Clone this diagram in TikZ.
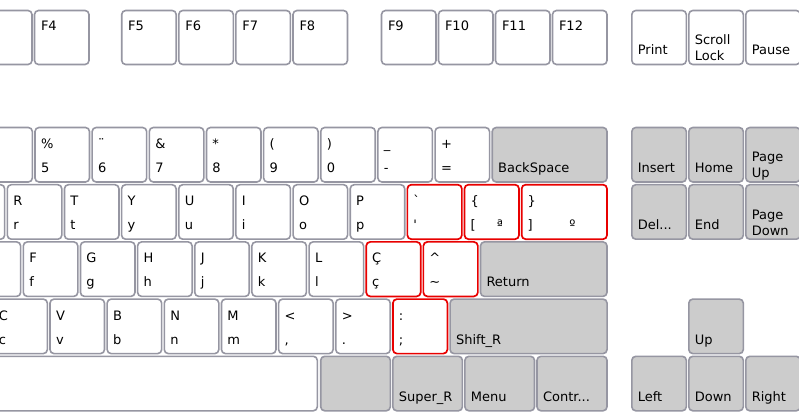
\documentclass[tikz,border=0pt]{standalone}
\usepackage{fontspec}
\setmainfont{DejaVu Sans}
\usepackage{tikz}
\usetikzlibrary{calc}
\definecolor{keyline}{RGB}{150,150,162}
\definecolor{keygray}{RGB}{204,204,204}
\definecolor{keyred}{RGB}{232,0,0}

\begin{document}
\begin{tikzpicture}[x=1pt,y=-1pt,
	kbkey/.style={draw=keyline,line width=1.6pt,rounded corners=4pt,fill=white,anchor=north west,inner sep=0pt,outer sep=0pt,minimum width=54.5pt,minimum height=54.5pt},
	graykey/.style={kbkey,fill=keygray},
	redkey/.style={kbkey,draw=keyred,line width=1.7pt},
	lab/.style={anchor=base west,inner sep=0pt,outer sep=0pt,font=\fontsize{13}{16}\selectfont}]
		\newcommand{\U}{57.15}
		\useasboundingbox (0,0) rectangle (799,419);
		\clip (0,0) rectangle (799,419);
		\fill[white] (0,0) rectangle (799,419);
		% F row
		\node[kbkey,minimum height=54pt] (f3) at (-22.5,10.5) {}; %cut off
		\foreach \n/\x in {4/34.5,5/121.7,6/178.8,7/235.9,8/293.0,9/381.5,10/438.5,11/495.5,12/552.5}{
			\node[kbkey,minimum height=54pt] (f\n) at (\x,10.5) {};
			\node[lab] (tf\n) at ($(f\n.north west)+(6.5,20)$) {F\n};
		}
		\node[kbkey,minimum height=54pt] (print) at (631.8,10.5) {};
		\node[lab] (tprint) at ($(print.north west)+(6,44.5)$) {Print};
		\node[kbkey,minimum height=54pt] (scroll) at (688.8,10.5) {};
		\node[lab] (tscroll) at ($(scroll.north west)+(6,34.5)$) {Scroll};
		\node[lab] (bscroll) at ($(scroll.north west)+(6,50.5)$) {Lock};
		\node[kbkey,minimum height=54pt] (pause) at (745.8,10.5) {};
		\node[lab] (tpause) at ($(pause.north west)+(6,44.5)$) {Pause};
		% number row
		\node[kbkey] (k4) at (35-\U,127.5) {}; %cut off
		\foreach \n/\u/\d [count=\i from 0] in {pct/\%/5,dia/¨/6,amp/\&/7,ast/*/8,lpa/(/9,rpa/)/0,und/\_/-,plu/+/=}{
			\node[kbkey] (k\n) at ({35+\i*\U},127.5) {};
			\node[lab] (t\n) at ($(k\n.north west)+(6,21)$) {\u};
			\node[lab] (b\n) at ($(k\n.north west)+(6,45)$) {\d};
		}
		\node[graykey,minimum width=114.8pt] (bksp) at (492.2,127.5) {};
		\node[lab] (tbksp) at ($(bksp.north west)+(6,45)$) {BackSpace};
		% upper letter row
		\node[kbkey] (ke) at (7.3-\U,184.7) {}; %cut off
		\foreach \u/\d [count=\i from 0] in {R/r,T/t,Y/y,U/u,I/i,O/o,P/p}{
			\node[kbkey] (k\d) at ({7.3+\i*\U},184.7) {};
			\node[lab] (t\d) at ($(k\d.north west)+(6,21)$) {\u};
			\node[lab] (b\d) at ($(k\d.north west)+(6,45)$) {\d};
		}
		\node[redkey] (kgrv) at (407.35,184.7) {};
		\node[lab] (tgrv) at ($(kgrv.north west)+(6,21)$) {\textasciigrave};
		\node[lab] (bgrv) at ($(kgrv.north west)+(6,45)$) {\textquotesingle};
		\node[redkey] (klbr) at (464.5,184.7) {};
		\node[lab] (tlbr) at ($(klbr.north west)+(6,21)$) {\{};
		\node[lab] (blbr) at ($(klbr.north west)+(6,45)$) {[};
		\node[lab] (albr) at ($(klbr.north)+(5,45)$) {ª};
		\node[redkey,minimum width=85.35pt] (krbr) at (521.65,184.7) {};
		\node[lab] (trbr) at ($(krbr.north west)+(6,21)$) {\}};
		\node[lab] (brbr) at ($(krbr.north west)+(6,45)$) {]};
		\node[lab] (arbr) at ($(krbr.north)+(5,45)$) {º};
		% home row
		\node[kbkey] (kd) at (23.3-\U,241.9) {}; %cut off
		\foreach \u/\d [count=\i from 0] in {F/f,G/g,H/h,J/j,K/k,L/l}{
			\node[kbkey] (k\d) at ({23.3+\i*\U},241.9) {};
			\node[lab] (t\d) at ($(k\d.north west)+(6,21)$) {\u};
			\node[lab] (b\d) at ($(k\d.north west)+(6,45)$) {\d};
		}
		\node[redkey] (kced) at (366.2,241.9) {};
		\node[lab] (tced) at ($(kced.north west)+(6,21)$) {Ç};
		\node[lab] (bced) at ($(kced.north west)+(6,45)$) {ç};
		\node[redkey] (kcirc) at (423.35,241.9) {};
		\node[lab] (tcirc) at ($(kcirc.north west)+(6,21)$) {\textasciicircum};
		\node[lab] (bcirc) at ($(kcirc.north west)+(6,45)$) {\textasciitilde};
		\node[graykey,minimum width=126.5pt] (ret) at (480.5,241.9) {};
		\node[lab] (tret) at ($(ret.north west)+(6,45)$) {Return};
		% lower letter row
		\foreach \u/\d [count=\i from -1] in {C/c,V/v,B/b,N/n,M/m,</{,},>/.}{
			\node[kbkey] (k\i) at ({50+\i*\U},299.1) {};
			\node[lab] (t\i) at ($(k\i.north west)+(6,21)$) {\u};
			\node[lab] (b\i) at ($(k\i.north west)+(6,45)$) {\d};
		}
		\node[redkey] (kcol) at (392.9,299.1) {};
		\node[lab] (tcol) at ($(kcol.north west)+(6,21)$) {:};
		\node[lab] (bcol) at ($(kcol.north west)+(6,45)$) {;};
		\node[graykey,minimum width=157pt] (shiftr) at (450.05,299.1) {};
		\node[lab] (tshiftr) at ($(shiftr.north west)+(6,45)$) {Shift\_R};
		% bottom row
		\node[kbkey,minimum width=517.3pt] (space) at (-200,356.3) {};
		\node[graykey,minimum width=69.6pt] (blank) at (320.7,356.3) {};
		\node[graykey,minimum width=69.6pt] (superr) at (392.8,356.3) {};
		\node[lab] (tsuperr) at ($(superr.north west)+(6,45)$) {Super\_R};
		\node[graykey,minimum width=69.6pt] (menu) at (464.9,356.3) {};
		\node[lab] (tmenu) at ($(menu.north west)+(6,45)$) {Menu};
		\node[graykey,minimum width=70pt] (ctrl) at (537,356.3) {};
		\node[lab] (tctrl) at ($(ctrl.north west)+(6,45)$) {Contr...};
		% navigation block
		\node[graykey] (ins) at (631.8,127.5) {};
		\node[lab] (tins) at ($(ins.north west)+(6,45)$) {Insert};
		\node[graykey] (home) at (688.8,127.5) {};
		\node[lab] (thome) at ($(home.north west)+(6,45)$) {Home};
		\node[graykey] (pgup) at (745.8,127.5) {};
		\node[lab] (tpgup) at ($(pgup.north west)+(6,34.5)$) {Page};
		\node[lab] (bpgup) at ($(pgup.north west)+(6,50.5)$) {Up};
		\node[graykey] (del) at (631.8,184.7) {};
		\node[lab] (tdel) at ($(del.north west)+(6,45)$) {Del...};
		\node[graykey] (end) at (688.8,184.7) {};
		\node[lab] (tend) at ($(end.north west)+(6,45)$) {End};
		\node[graykey] (pgdn) at (745.8,184.7) {};
		\node[lab] (tpgdn) at ($(pgdn.north west)+(6,34.5)$) {Page};
		\node[lab] (bpgdn) at ($(pgdn.north west)+(6,50.5)$) {Down};
		\node[graykey] (up) at (688.8,299.1) {};
		\node[lab] (tup) at ($(up.north west)+(6,45)$) {Up};
		\node[graykey] (left) at (631.8,356.3) {};
		\node[lab] (tleft) at ($(left.north west)+(6,45)$) {Left};
		\node[graykey] (down) at (688.8,356.3) {};
		\node[lab] (tdown) at ($(down.north west)+(6,45)$) {Down};
		\node[graykey] (right) at (745.8,356.3) {};
		\node[lab] (tright) at ($(right.north west)+(6,45)$) {Right};
	\end{tikzpicture}
\end{document}
